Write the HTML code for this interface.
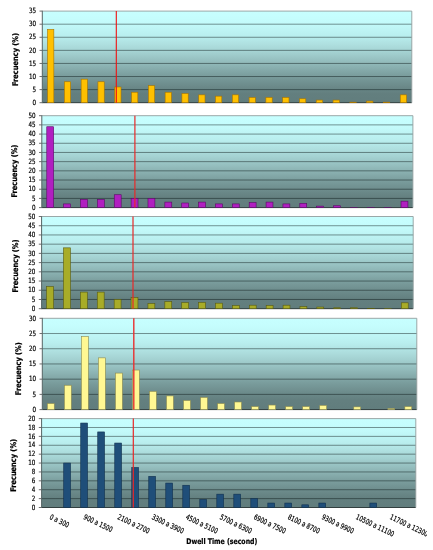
<!DOCTYPE html>
<html><head><meta charset="utf-8"><title>Dwell Time</title>
<style>html,body{margin:0;padding:0;background:#fff}svg{display:block}text{font-family:"DejaVu Sans Condensed","DejaVu Sans","Liberation Sans",sans-serif;fill:#000;stroke:#000;stroke-width:0.2px}</style></head>
<body>
<svg width="433" height="550" viewBox="0 0 433 550">
<defs><linearGradient id="g" x1="0" y1="0" x2="0" y2="1"><stop offset="0.000" stop-color="#C7FFFF"/><stop offset="0.080" stop-color="#C5FDFD"/><stop offset="0.130" stop-color="#C3FAFA"/><stop offset="0.270" stop-color="#B9EEEE"/><stop offset="0.360" stop-color="#AFE0E0"/><stop offset="0.445" stop-color="#A4D2D2"/><stop offset="0.555" stop-color="#93BCBC"/><stop offset="0.700" stop-color="#7B9E9E"/><stop offset="0.840" stop-color="#698787"/><stop offset="0.900" stop-color="#637F7F"/><stop offset="1.000" stop-color="#617D7D"/></linearGradient><clipPath id="c"><rect x="380" y="505" width="46.8" height="45"/></clipPath></defs>
<rect width="433" height="550" fill="#fff"/>
<g>
<rect x="42.3" y="11.1" width="369.5" height="91.6" fill="url(#g)"/>
<line x1="42.3" y1="102.70" x2="411.8" y2="102.70" stroke="#081414" stroke-opacity="0.75" stroke-width="1.00"/>
<line x1="39.5" y1="102.70" x2="42.3" y2="102.70" stroke="#4a4a4a" stroke-width="0.8"/>
<text transform="translate(36.1,104.90) scale(0.86,1)" font-size="7.25" text-anchor="end">0</text>
<line x1="42.3" y1="89.61" x2="411.8" y2="89.61" stroke="#081414" stroke-opacity="0.50" stroke-width="0.90"/>
<line x1="39.5" y1="89.61" x2="42.3" y2="89.61" stroke="#4a4a4a" stroke-width="0.8"/>
<text transform="translate(36.1,91.81) scale(0.86,1)" font-size="7.25" text-anchor="end">5</text>
<line x1="42.3" y1="76.53" x2="411.8" y2="76.53" stroke="#081414" stroke-opacity="0.50" stroke-width="0.90"/>
<line x1="39.5" y1="76.53" x2="42.3" y2="76.53" stroke="#4a4a4a" stroke-width="0.8"/>
<text transform="translate(36.1,78.73) scale(0.86,1)" font-size="7.25" text-anchor="end">10</text>
<line x1="42.3" y1="63.44" x2="411.8" y2="63.44" stroke="#081414" stroke-opacity="0.50" stroke-width="0.90"/>
<line x1="39.5" y1="63.44" x2="42.3" y2="63.44" stroke="#4a4a4a" stroke-width="0.8"/>
<text transform="translate(36.1,65.64) scale(0.86,1)" font-size="7.25" text-anchor="end">15</text>
<line x1="42.3" y1="50.36" x2="411.8" y2="50.36" stroke="#081414" stroke-opacity="0.50" stroke-width="0.90"/>
<line x1="39.5" y1="50.36" x2="42.3" y2="50.36" stroke="#4a4a4a" stroke-width="0.8"/>
<text transform="translate(36.1,52.56) scale(0.86,1)" font-size="7.25" text-anchor="end">20</text>
<line x1="42.3" y1="37.27" x2="411.8" y2="37.27" stroke="#081414" stroke-opacity="0.50" stroke-width="0.90"/>
<line x1="39.5" y1="37.27" x2="42.3" y2="37.27" stroke="#4a4a4a" stroke-width="0.8"/>
<text transform="translate(36.1,39.47) scale(0.86,1)" font-size="7.25" text-anchor="end">25</text>
<line x1="42.3" y1="24.19" x2="411.8" y2="24.19" stroke="#081414" stroke-opacity="0.50" stroke-width="0.90"/>
<line x1="39.5" y1="24.19" x2="42.3" y2="24.19" stroke="#4a4a4a" stroke-width="0.8"/>
<text transform="translate(36.1,26.39) scale(0.86,1)" font-size="7.25" text-anchor="end">30</text>
<line x1="39.5" y1="11.10" x2="42.3" y2="11.10" stroke="#4a4a4a" stroke-width="0.8"/>
<text transform="translate(36.1,13.30) scale(0.86,1)" font-size="7.25" text-anchor="end">35</text>
<path d="M42.3 11.1H411.8V102.7" fill="none" stroke="#929e9e" stroke-width="0.9"/>
<line x1="42.3" y1="10.7" x2="42.3" y2="103.1" stroke="#566464" stroke-width="1"/>
<rect x="47.55" y="29.42" width="6.3" height="73.28" fill="#FFC000" stroke="#A87400" stroke-width="0.6"/>
<rect x="64.34" y="81.76" width="6.3" height="20.94" fill="#FFC000" stroke="#A87400" stroke-width="0.6"/>
<rect x="81.14" y="79.15" width="6.3" height="23.55" fill="#FFC000" stroke="#A87400" stroke-width="0.6"/>
<rect x="97.93" y="81.76" width="6.3" height="20.94" fill="#FFC000" stroke="#A87400" stroke-width="0.6"/>
<rect x="114.73" y="87.00" width="6.3" height="15.70" fill="#FFC000" stroke="#A87400" stroke-width="0.6"/>
<rect x="131.53" y="92.23" width="6.3" height="10.47" fill="#FFC000" stroke="#A87400" stroke-width="0.6"/>
<rect x="148.32" y="85.69" width="6.3" height="17.01" fill="#FFC000" stroke="#A87400" stroke-width="0.6"/>
<rect x="165.12" y="92.23" width="6.3" height="10.47" fill="#FFC000" stroke="#A87400" stroke-width="0.6"/>
<rect x="181.91" y="93.54" width="6.3" height="9.16" fill="#FFC000" stroke="#A87400" stroke-width="0.6"/>
<rect x="198.71" y="94.85" width="6.3" height="7.85" fill="#FFC000" stroke="#A87400" stroke-width="0.6"/>
<rect x="215.50" y="96.16" width="6.3" height="6.54" fill="#FFC000" stroke="#A87400" stroke-width="0.6"/>
<rect x="232.30" y="94.85" width="6.3" height="7.85" fill="#FFC000" stroke="#A87400" stroke-width="0.6"/>
<rect x="249.09" y="97.47" width="6.3" height="5.23" fill="#FFC000" stroke="#A87400" stroke-width="0.6"/>
<rect x="265.89" y="97.47" width="6.3" height="5.23" fill="#FFC000" stroke="#A87400" stroke-width="0.6"/>
<rect x="282.68" y="97.47" width="6.3" height="5.23" fill="#FFC000" stroke="#A87400" stroke-width="0.6"/>
<rect x="299.48" y="98.77" width="6.3" height="3.93" fill="#FFC000" stroke="#A87400" stroke-width="0.6"/>
<rect x="316.28" y="100.08" width="6.3" height="2.62" fill="#FFC000" stroke="#A87400" stroke-width="0.6"/>
<rect x="333.07" y="100.08" width="6.3" height="2.62" fill="#FFC000" stroke="#A87400" stroke-width="0.6"/>
<rect x="349.87" y="102.18" width="6.3" height="0.52" fill="#FFC000" stroke="#A87400" stroke-width="0.6"/>
<rect x="366.66" y="101.13" width="6.3" height="1.57" fill="#FFC000" stroke="#A87400" stroke-width="0.6"/>
<rect x="383.46" y="102.18" width="6.3" height="0.52" fill="#FFC000" stroke="#A87400" stroke-width="0.6"/>
<rect x="400.25" y="94.85" width="6.3" height="7.85" fill="#FFC000" stroke="#A87400" stroke-width="0.6"/>
<line x1="116.3" y1="11.1" x2="116.3" y2="102.7" stroke="#F01010" stroke-width="1.1"/>
<text transform="translate(17.8,59.5) rotate(-90) scale(0.945,1)" font-size="7.8" font-weight="bold" text-anchor="middle">Frecuency (%)</text>
</g>
<g>
<rect x="41.8" y="115.7" width="371.1" height="91.9" fill="url(#g)"/>
<line x1="41.8" y1="207.60" x2="412.9" y2="207.60" stroke="#081414" stroke-opacity="0.75" stroke-width="1.00"/>
<line x1="39.0" y1="207.60" x2="41.8" y2="207.60" stroke="#4a4a4a" stroke-width="0.8"/>
<text transform="translate(35.6,209.80) scale(0.86,1)" font-size="7.25" text-anchor="end">0</text>
<line x1="41.8" y1="198.41" x2="412.9" y2="198.41" stroke="#081414" stroke-opacity="0.50" stroke-width="0.90"/>
<line x1="39.0" y1="198.41" x2="41.8" y2="198.41" stroke="#4a4a4a" stroke-width="0.8"/>
<text transform="translate(35.6,200.61) scale(0.86,1)" font-size="7.25" text-anchor="end">5</text>
<line x1="41.8" y1="189.22" x2="412.9" y2="189.22" stroke="#081414" stroke-opacity="0.50" stroke-width="0.90"/>
<line x1="39.0" y1="189.22" x2="41.8" y2="189.22" stroke="#4a4a4a" stroke-width="0.8"/>
<text transform="translate(35.6,191.42) scale(0.86,1)" font-size="7.25" text-anchor="end">10</text>
<line x1="41.8" y1="180.03" x2="412.9" y2="180.03" stroke="#081414" stroke-opacity="0.50" stroke-width="0.90"/>
<line x1="39.0" y1="180.03" x2="41.8" y2="180.03" stroke="#4a4a4a" stroke-width="0.8"/>
<text transform="translate(35.6,182.23) scale(0.86,1)" font-size="7.25" text-anchor="end">15</text>
<line x1="41.8" y1="170.84" x2="412.9" y2="170.84" stroke="#081414" stroke-opacity="0.50" stroke-width="0.90"/>
<line x1="39.0" y1="170.84" x2="41.8" y2="170.84" stroke="#4a4a4a" stroke-width="0.8"/>
<text transform="translate(35.6,173.04) scale(0.86,1)" font-size="7.25" text-anchor="end">20</text>
<line x1="41.8" y1="161.65" x2="412.9" y2="161.65" stroke="#081414" stroke-opacity="0.50" stroke-width="0.90"/>
<line x1="39.0" y1="161.65" x2="41.8" y2="161.65" stroke="#4a4a4a" stroke-width="0.8"/>
<text transform="translate(35.6,163.85) scale(0.86,1)" font-size="7.25" text-anchor="end">25</text>
<line x1="41.8" y1="152.46" x2="412.9" y2="152.46" stroke="#081414" stroke-opacity="0.50" stroke-width="0.90"/>
<line x1="39.0" y1="152.46" x2="41.8" y2="152.46" stroke="#4a4a4a" stroke-width="0.8"/>
<text transform="translate(35.6,154.66) scale(0.86,1)" font-size="7.25" text-anchor="end">30</text>
<line x1="41.8" y1="143.27" x2="412.9" y2="143.27" stroke="#081414" stroke-opacity="0.50" stroke-width="0.90"/>
<line x1="39.0" y1="143.27" x2="41.8" y2="143.27" stroke="#4a4a4a" stroke-width="0.8"/>
<text transform="translate(35.6,145.47) scale(0.86,1)" font-size="7.25" text-anchor="end">35</text>
<line x1="41.8" y1="134.08" x2="412.9" y2="134.08" stroke="#081414" stroke-opacity="0.50" stroke-width="0.90"/>
<line x1="39.0" y1="134.08" x2="41.8" y2="134.08" stroke="#4a4a4a" stroke-width="0.8"/>
<text transform="translate(35.6,136.28) scale(0.86,1)" font-size="7.25" text-anchor="end">40</text>
<line x1="41.8" y1="124.89" x2="412.9" y2="124.89" stroke="#081414" stroke-opacity="0.50" stroke-width="0.90"/>
<line x1="39.0" y1="124.89" x2="41.8" y2="124.89" stroke="#4a4a4a" stroke-width="0.8"/>
<text transform="translate(35.6,127.09) scale(0.86,1)" font-size="7.25" text-anchor="end">45</text>
<line x1="39.0" y1="115.70" x2="41.8" y2="115.70" stroke="#4a4a4a" stroke-width="0.8"/>
<text transform="translate(35.6,117.90) scale(0.86,1)" font-size="7.25" text-anchor="end">50</text>
<path d="M41.8 115.7H412.9V207.6" fill="none" stroke="#929e9e" stroke-width="0.9"/>
<line x1="41.8" y1="115.3" x2="41.8" y2="208.0" stroke="#566464" stroke-width="1"/>
<rect x="46.78" y="126.73" width="6.9" height="80.87" fill="#B01FC0" stroke="#5A0A66" stroke-width="0.6"/>
<rect x="63.65" y="203.92" width="6.9" height="3.68" fill="#B01FC0" stroke="#5A0A66" stroke-width="0.6"/>
<rect x="80.52" y="199.33" width="6.9" height="8.27" fill="#B01FC0" stroke="#5A0A66" stroke-width="0.6"/>
<rect x="97.39" y="199.33" width="6.9" height="8.27" fill="#B01FC0" stroke="#5A0A66" stroke-width="0.6"/>
<rect x="114.26" y="194.73" width="6.9" height="12.87" fill="#B01FC0" stroke="#5A0A66" stroke-width="0.6"/>
<rect x="131.12" y="198.41" width="6.9" height="9.19" fill="#B01FC0" stroke="#5A0A66" stroke-width="0.6"/>
<rect x="147.99" y="198.41" width="6.9" height="9.19" fill="#B01FC0" stroke="#5A0A66" stroke-width="0.6"/>
<rect x="164.86" y="202.09" width="6.9" height="5.51" fill="#B01FC0" stroke="#5A0A66" stroke-width="0.6"/>
<rect x="181.73" y="203.00" width="6.9" height="4.59" fill="#B01FC0" stroke="#5A0A66" stroke-width="0.6"/>
<rect x="198.60" y="202.09" width="6.9" height="5.51" fill="#B01FC0" stroke="#5A0A66" stroke-width="0.6"/>
<rect x="215.47" y="203.92" width="6.9" height="3.68" fill="#B01FC0" stroke="#5A0A66" stroke-width="0.6"/>
<rect x="232.33" y="203.92" width="6.9" height="3.68" fill="#B01FC0" stroke="#5A0A66" stroke-width="0.6"/>
<rect x="249.20" y="202.64" width="6.9" height="4.96" fill="#B01FC0" stroke="#5A0A66" stroke-width="0.6"/>
<rect x="266.07" y="202.09" width="6.9" height="5.51" fill="#B01FC0" stroke="#5A0A66" stroke-width="0.6"/>
<rect x="282.94" y="203.92" width="6.9" height="3.68" fill="#B01FC0" stroke="#5A0A66" stroke-width="0.6"/>
<rect x="299.81" y="203.37" width="6.9" height="4.23" fill="#B01FC0" stroke="#5A0A66" stroke-width="0.6"/>
<rect x="316.68" y="206.13" width="6.9" height="1.47" fill="#B01FC0" stroke="#5A0A66" stroke-width="0.6"/>
<rect x="333.54" y="205.76" width="6.9" height="1.84" fill="#B01FC0" stroke="#5A0A66" stroke-width="0.6"/>
<rect x="350.41" y="207.38" width="6.9" height="0.22" fill="#B01FC0" stroke="#5A0A66" stroke-width="0.6"/>
<rect x="367.28" y="207.38" width="6.9" height="0.22" fill="#B01FC0" stroke="#5A0A66" stroke-width="0.6"/>
<rect x="384.15" y="207.38" width="6.9" height="0.22" fill="#B01FC0" stroke="#5A0A66" stroke-width="0.6"/>
<rect x="401.02" y="201.17" width="6.9" height="6.43" fill="#B01FC0" stroke="#5A0A66" stroke-width="0.6"/>
<line x1="134.9" y1="115.7" x2="134.9" y2="207.6" stroke="#E82828" stroke-width="1.2"/>
<text transform="translate(17.1,171.1) rotate(-90) scale(0.945,1)" font-size="7.8" font-weight="bold" text-anchor="middle">Frecuency (%)</text>
</g>
<g>
<rect x="41.6" y="216.5" width="371.6" height="92.2" fill="url(#g)"/>
<line x1="41.6" y1="308.70" x2="413.2" y2="308.70" stroke="#081414" stroke-opacity="0.75" stroke-width="1.00"/>
<line x1="38.8" y1="308.70" x2="41.6" y2="308.70" stroke="#4a4a4a" stroke-width="0.8"/>
<text transform="translate(35.4,310.90) scale(0.86,1)" font-size="7.25" text-anchor="end">0</text>
<line x1="41.6" y1="299.48" x2="413.2" y2="299.48" stroke="#081414" stroke-opacity="0.50" stroke-width="0.90"/>
<line x1="38.8" y1="299.48" x2="41.6" y2="299.48" stroke="#4a4a4a" stroke-width="0.8"/>
<text transform="translate(35.4,301.68) scale(0.86,1)" font-size="7.25" text-anchor="end">5</text>
<line x1="41.6" y1="290.26" x2="413.2" y2="290.26" stroke="#081414" stroke-opacity="0.50" stroke-width="0.90"/>
<line x1="38.8" y1="290.26" x2="41.6" y2="290.26" stroke="#4a4a4a" stroke-width="0.8"/>
<text transform="translate(35.4,292.46) scale(0.86,1)" font-size="7.25" text-anchor="end">10</text>
<line x1="41.6" y1="281.04" x2="413.2" y2="281.04" stroke="#081414" stroke-opacity="0.50" stroke-width="0.90"/>
<line x1="38.8" y1="281.04" x2="41.6" y2="281.04" stroke="#4a4a4a" stroke-width="0.8"/>
<text transform="translate(35.4,283.24) scale(0.86,1)" font-size="7.25" text-anchor="end">15</text>
<line x1="41.6" y1="271.82" x2="413.2" y2="271.82" stroke="#081414" stroke-opacity="0.50" stroke-width="0.90"/>
<line x1="38.8" y1="271.82" x2="41.6" y2="271.82" stroke="#4a4a4a" stroke-width="0.8"/>
<text transform="translate(35.4,274.02) scale(0.86,1)" font-size="7.25" text-anchor="end">20</text>
<line x1="41.6" y1="262.60" x2="413.2" y2="262.60" stroke="#081414" stroke-opacity="0.50" stroke-width="0.90"/>
<line x1="38.8" y1="262.60" x2="41.6" y2="262.60" stroke="#4a4a4a" stroke-width="0.8"/>
<text transform="translate(35.4,264.80) scale(0.86,1)" font-size="7.25" text-anchor="end">25</text>
<line x1="41.6" y1="253.38" x2="413.2" y2="253.38" stroke="#081414" stroke-opacity="0.50" stroke-width="0.90"/>
<line x1="38.8" y1="253.38" x2="41.6" y2="253.38" stroke="#4a4a4a" stroke-width="0.8"/>
<text transform="translate(35.4,255.58) scale(0.86,1)" font-size="7.25" text-anchor="end">30</text>
<line x1="41.6" y1="244.16" x2="413.2" y2="244.16" stroke="#081414" stroke-opacity="0.50" stroke-width="0.90"/>
<line x1="38.8" y1="244.16" x2="41.6" y2="244.16" stroke="#4a4a4a" stroke-width="0.8"/>
<text transform="translate(35.4,246.36) scale(0.86,1)" font-size="7.25" text-anchor="end">35</text>
<line x1="41.6" y1="234.94" x2="413.2" y2="234.94" stroke="#081414" stroke-opacity="0.50" stroke-width="0.90"/>
<line x1="38.8" y1="234.94" x2="41.6" y2="234.94" stroke="#4a4a4a" stroke-width="0.8"/>
<text transform="translate(35.4,237.14) scale(0.86,1)" font-size="7.25" text-anchor="end">40</text>
<line x1="41.6" y1="225.72" x2="413.2" y2="225.72" stroke="#081414" stroke-opacity="0.50" stroke-width="0.90"/>
<line x1="38.8" y1="225.72" x2="41.6" y2="225.72" stroke="#4a4a4a" stroke-width="0.8"/>
<text transform="translate(35.4,227.92) scale(0.86,1)" font-size="7.25" text-anchor="end">45</text>
<line x1="38.8" y1="216.50" x2="41.6" y2="216.50" stroke="#4a4a4a" stroke-width="0.8"/>
<text transform="translate(35.4,218.70) scale(0.86,1)" font-size="7.25" text-anchor="end">50</text>
<path d="M41.6 216.5H413.2V308.7" fill="none" stroke="#929e9e" stroke-width="0.9"/>
<line x1="41.6" y1="216.1" x2="41.6" y2="309.1" stroke="#566464" stroke-width="1"/>
<rect x="46.60" y="286.57" width="6.9" height="22.13" fill="#A8AC28" stroke="#5A5C10" stroke-width="0.6"/>
<rect x="63.49" y="247.85" width="6.9" height="60.85" fill="#A8AC28" stroke="#5A5C10" stroke-width="0.6"/>
<rect x="80.38" y="292.10" width="6.9" height="16.60" fill="#A8AC28" stroke="#5A5C10" stroke-width="0.6"/>
<rect x="97.27" y="292.10" width="6.9" height="16.60" fill="#A8AC28" stroke="#5A5C10" stroke-width="0.6"/>
<rect x="114.16" y="299.48" width="6.9" height="9.22" fill="#A8AC28" stroke="#5A5C10" stroke-width="0.6"/>
<rect x="131.05" y="297.64" width="6.9" height="11.06" fill="#A8AC28" stroke="#5A5C10" stroke-width="0.6"/>
<rect x="147.94" y="303.54" width="6.9" height="5.16" fill="#A8AC28" stroke="#5A5C10" stroke-width="0.6"/>
<rect x="164.83" y="301.69" width="6.9" height="7.01" fill="#A8AC28" stroke="#5A5C10" stroke-width="0.6"/>
<rect x="181.72" y="302.61" width="6.9" height="6.09" fill="#A8AC28" stroke="#5A5C10" stroke-width="0.6"/>
<rect x="198.61" y="302.43" width="6.9" height="6.27" fill="#A8AC28" stroke="#5A5C10" stroke-width="0.6"/>
<rect x="215.50" y="303.17" width="6.9" height="5.53" fill="#A8AC28" stroke="#5A5C10" stroke-width="0.6"/>
<rect x="232.40" y="305.57" width="6.9" height="3.13" fill="#A8AC28" stroke="#5A5C10" stroke-width="0.6"/>
<rect x="249.29" y="305.20" width="6.9" height="3.50" fill="#A8AC28" stroke="#5A5C10" stroke-width="0.6"/>
<rect x="266.18" y="305.57" width="6.9" height="3.13" fill="#A8AC28" stroke="#5A5C10" stroke-width="0.6"/>
<rect x="283.07" y="305.20" width="6.9" height="3.50" fill="#A8AC28" stroke="#5A5C10" stroke-width="0.6"/>
<rect x="299.96" y="306.67" width="6.9" height="2.03" fill="#A8AC28" stroke="#5A5C10" stroke-width="0.6"/>
<rect x="316.85" y="307.04" width="6.9" height="1.66" fill="#A8AC28" stroke="#5A5C10" stroke-width="0.6"/>
<rect x="333.74" y="307.78" width="6.9" height="0.92" fill="#A8AC28" stroke="#5A5C10" stroke-width="0.6"/>
<rect x="350.63" y="307.78" width="6.9" height="0.92" fill="#A8AC28" stroke="#5A5C10" stroke-width="0.6"/>
<rect x="367.52" y="308.42" width="6.9" height="0.28" fill="#A8AC28" stroke="#5A5C10" stroke-width="0.6"/>
<rect x="384.41" y="308.33" width="6.9" height="0.37" fill="#A8AC28" stroke="#5A5C10" stroke-width="0.6"/>
<rect x="401.30" y="302.80" width="6.9" height="5.90" fill="#A8AC28" stroke="#5A5C10" stroke-width="0.6"/>
<line x1="133.0" y1="216.5" x2="133.0" y2="308.7" stroke="#E82828" stroke-width="1.2"/>
<text transform="translate(17.9,266.0) rotate(-90) scale(0.945,1)" font-size="7.8" font-weight="bold" text-anchor="middle">Frecuency (%)</text>
</g>
<g>
<rect x="42.3" y="318.3" width="374.5" height="91.3" fill="url(#g)"/>
<line x1="42.3" y1="409.60" x2="416.8" y2="409.60" stroke="#081414" stroke-opacity="0.75" stroke-width="1.00"/>
<line x1="39.5" y1="409.60" x2="42.3" y2="409.60" stroke="#4a4a4a" stroke-width="0.8"/>
<text transform="translate(36.1,411.80) scale(0.86,1)" font-size="7.25" text-anchor="end">0</text>
<line x1="42.3" y1="394.38" x2="416.8" y2="394.38" stroke="#081414" stroke-opacity="0.50" stroke-width="0.90"/>
<line x1="39.5" y1="394.38" x2="42.3" y2="394.38" stroke="#4a4a4a" stroke-width="0.8"/>
<text transform="translate(36.1,396.58) scale(0.86,1)" font-size="7.25" text-anchor="end">5</text>
<line x1="42.3" y1="379.17" x2="416.8" y2="379.17" stroke="#081414" stroke-opacity="0.50" stroke-width="0.90"/>
<line x1="39.5" y1="379.17" x2="42.3" y2="379.17" stroke="#4a4a4a" stroke-width="0.8"/>
<text transform="translate(36.1,381.37) scale(0.86,1)" font-size="7.25" text-anchor="end">10</text>
<line x1="42.3" y1="363.95" x2="416.8" y2="363.95" stroke="#081414" stroke-opacity="0.50" stroke-width="0.90"/>
<line x1="39.5" y1="363.95" x2="42.3" y2="363.95" stroke="#4a4a4a" stroke-width="0.8"/>
<text transform="translate(36.1,366.15) scale(0.86,1)" font-size="7.25" text-anchor="end">15</text>
<line x1="42.3" y1="348.73" x2="416.8" y2="348.73" stroke="#081414" stroke-opacity="0.50" stroke-width="0.90"/>
<line x1="39.5" y1="348.73" x2="42.3" y2="348.73" stroke="#4a4a4a" stroke-width="0.8"/>
<text transform="translate(36.1,350.93) scale(0.86,1)" font-size="7.25" text-anchor="end">20</text>
<line x1="42.3" y1="333.52" x2="416.8" y2="333.52" stroke="#081414" stroke-opacity="0.50" stroke-width="0.90"/>
<line x1="39.5" y1="333.52" x2="42.3" y2="333.52" stroke="#4a4a4a" stroke-width="0.8"/>
<text transform="translate(36.1,335.72) scale(0.86,1)" font-size="7.25" text-anchor="end">25</text>
<line x1="39.5" y1="318.30" x2="42.3" y2="318.30" stroke="#4a4a4a" stroke-width="0.8"/>
<text transform="translate(36.1,320.50) scale(0.86,1)" font-size="7.25" text-anchor="end">30</text>
<path d="M42.3 318.3H416.8V409.6" fill="none" stroke="#929e9e" stroke-width="0.9"/>
<line x1="42.3" y1="317.9" x2="42.3" y2="410.0" stroke="#566464" stroke-width="1"/>
<rect x="47.36" y="403.51" width="6.9" height="6.09" fill="#FFF893" stroke="#8A8A50" stroke-width="0.6"/>
<rect x="64.38" y="385.25" width="6.9" height="24.35" fill="#FFF893" stroke="#8A8A50" stroke-width="0.6"/>
<rect x="81.41" y="336.56" width="6.9" height="73.04" fill="#FFF893" stroke="#8A8A50" stroke-width="0.6"/>
<rect x="98.43" y="357.86" width="6.9" height="51.74" fill="#FFF893" stroke="#8A8A50" stroke-width="0.6"/>
<rect x="115.45" y="373.08" width="6.9" height="36.52" fill="#FFF893" stroke="#8A8A50" stroke-width="0.6"/>
<rect x="132.48" y="370.04" width="6.9" height="39.56" fill="#FFF893" stroke="#8A8A50" stroke-width="0.6"/>
<rect x="149.50" y="391.34" width="6.9" height="18.26" fill="#FFF893" stroke="#8A8A50" stroke-width="0.6"/>
<rect x="166.52" y="395.91" width="6.9" height="13.70" fill="#FFF893" stroke="#8A8A50" stroke-width="0.6"/>
<rect x="183.54" y="400.47" width="6.9" height="9.13" fill="#FFF893" stroke="#8A8A50" stroke-width="0.6"/>
<rect x="200.57" y="397.43" width="6.9" height="12.17" fill="#FFF893" stroke="#8A8A50" stroke-width="0.6"/>
<rect x="217.59" y="403.51" width="6.9" height="6.09" fill="#FFF893" stroke="#8A8A50" stroke-width="0.6"/>
<rect x="234.61" y="401.99" width="6.9" height="7.61" fill="#FFF893" stroke="#8A8A50" stroke-width="0.6"/>
<rect x="251.63" y="406.56" width="6.9" height="3.04" fill="#FFF893" stroke="#8A8A50" stroke-width="0.6"/>
<rect x="268.66" y="405.04" width="6.9" height="4.57" fill="#FFF893" stroke="#8A8A50" stroke-width="0.6"/>
<rect x="285.68" y="406.56" width="6.9" height="3.04" fill="#FFF893" stroke="#8A8A50" stroke-width="0.6"/>
<rect x="302.70" y="406.56" width="6.9" height="3.04" fill="#FFF893" stroke="#8A8A50" stroke-width="0.6"/>
<rect x="319.73" y="405.34" width="6.9" height="4.26" fill="#FFF893" stroke="#8A8A50" stroke-width="0.6"/>
<rect x="353.77" y="406.86" width="6.9" height="2.74" fill="#FFF893" stroke="#8A8A50" stroke-width="0.6"/>
<rect x="387.82" y="408.38" width="6.9" height="1.22" fill="#FFF893" stroke="#8A8A50" stroke-width="0.6"/>
<rect x="404.84" y="406.56" width="6.9" height="3.04" fill="#FFF893" stroke="#8A8A50" stroke-width="0.6"/>
<line x1="133.8" y1="318.3" x2="133.8" y2="409.6" stroke="#E83030" stroke-width="1.4"/>
<text transform="translate(21.3,368.7) rotate(-90) scale(0.945,1)" font-size="7.8" font-weight="bold" text-anchor="middle">Frecuency (%)</text>
</g>
<g>
<rect x="41.6" y="418.6" width="374.2" height="88.9" fill="url(#g)"/>
<line x1="41.6" y1="507.50" x2="415.8" y2="507.50" stroke="#081414" stroke-opacity="0.75" stroke-width="1.00"/>
<line x1="38.8" y1="507.50" x2="41.6" y2="507.50" stroke="#4a4a4a" stroke-width="0.8"/>
<text transform="translate(35.4,509.70) scale(0.86,1)" font-size="7.25" text-anchor="end">0</text>
<line x1="41.6" y1="498.61" x2="415.8" y2="498.61" stroke="#081414" stroke-opacity="0.50" stroke-width="0.90"/>
<line x1="38.8" y1="498.61" x2="41.6" y2="498.61" stroke="#4a4a4a" stroke-width="0.8"/>
<text transform="translate(35.4,500.81) scale(0.86,1)" font-size="7.25" text-anchor="end">2</text>
<line x1="41.6" y1="489.72" x2="415.8" y2="489.72" stroke="#081414" stroke-opacity="0.50" stroke-width="0.90"/>
<line x1="38.8" y1="489.72" x2="41.6" y2="489.72" stroke="#4a4a4a" stroke-width="0.8"/>
<text transform="translate(35.4,491.92) scale(0.86,1)" font-size="7.25" text-anchor="end">4</text>
<line x1="41.6" y1="480.83" x2="415.8" y2="480.83" stroke="#081414" stroke-opacity="0.50" stroke-width="0.90"/>
<line x1="38.8" y1="480.83" x2="41.6" y2="480.83" stroke="#4a4a4a" stroke-width="0.8"/>
<text transform="translate(35.4,483.03) scale(0.86,1)" font-size="7.25" text-anchor="end">6</text>
<line x1="41.6" y1="471.94" x2="415.8" y2="471.94" stroke="#081414" stroke-opacity="0.50" stroke-width="0.90"/>
<line x1="38.8" y1="471.94" x2="41.6" y2="471.94" stroke="#4a4a4a" stroke-width="0.8"/>
<text transform="translate(35.4,474.14) scale(0.86,1)" font-size="7.25" text-anchor="end">8</text>
<line x1="41.6" y1="463.05" x2="415.8" y2="463.05" stroke="#081414" stroke-opacity="0.50" stroke-width="0.90"/>
<line x1="38.8" y1="463.05" x2="41.6" y2="463.05" stroke="#4a4a4a" stroke-width="0.8"/>
<text transform="translate(35.4,465.25) scale(0.86,1)" font-size="7.25" text-anchor="end">10</text>
<line x1="41.6" y1="454.16" x2="415.8" y2="454.16" stroke="#081414" stroke-opacity="0.50" stroke-width="0.90"/>
<line x1="38.8" y1="454.16" x2="41.6" y2="454.16" stroke="#4a4a4a" stroke-width="0.8"/>
<text transform="translate(35.4,456.36) scale(0.86,1)" font-size="7.25" text-anchor="end">12</text>
<line x1="41.6" y1="445.27" x2="415.8" y2="445.27" stroke="#081414" stroke-opacity="0.50" stroke-width="0.90"/>
<line x1="38.8" y1="445.27" x2="41.6" y2="445.27" stroke="#4a4a4a" stroke-width="0.8"/>
<text transform="translate(35.4,447.47) scale(0.86,1)" font-size="7.25" text-anchor="end">14</text>
<line x1="41.6" y1="436.38" x2="415.8" y2="436.38" stroke="#081414" stroke-opacity="0.50" stroke-width="0.90"/>
<line x1="38.8" y1="436.38" x2="41.6" y2="436.38" stroke="#4a4a4a" stroke-width="0.8"/>
<text transform="translate(35.4,438.58) scale(0.86,1)" font-size="7.25" text-anchor="end">16</text>
<line x1="41.6" y1="427.49" x2="415.8" y2="427.49" stroke="#081414" stroke-opacity="0.50" stroke-width="0.90"/>
<line x1="38.8" y1="427.49" x2="41.6" y2="427.49" stroke="#4a4a4a" stroke-width="0.8"/>
<text transform="translate(35.4,429.69) scale(0.86,1)" font-size="7.25" text-anchor="end">18</text>
<line x1="38.8" y1="418.60" x2="41.6" y2="418.60" stroke="#4a4a4a" stroke-width="0.8"/>
<text transform="translate(35.4,420.80) scale(0.86,1)" font-size="7.25" text-anchor="end">20</text>
<path d="M41.6 418.6H415.8V507.5" fill="none" stroke="#929e9e" stroke-width="0.9"/>
<line x1="41.6" y1="418.2" x2="41.6" y2="507.9" stroke="#566464" stroke-width="1"/>
<rect x="63.71" y="463.05" width="6.8" height="44.45" fill="#1F4E79" stroke="#10304F" stroke-width="0.6"/>
<rect x="80.72" y="423.05" width="6.8" height="84.45" fill="#1F4E79" stroke="#10304F" stroke-width="0.6"/>
<rect x="97.73" y="431.94" width="6.8" height="75.56" fill="#1F4E79" stroke="#10304F" stroke-width="0.6"/>
<rect x="114.74" y="443.05" width="6.8" height="64.45" fill="#1F4E79" stroke="#10304F" stroke-width="0.6"/>
<rect x="131.75" y="467.50" width="6.8" height="40.00" fill="#1F4E79" stroke="#10304F" stroke-width="0.6"/>
<rect x="148.76" y="476.38" width="6.8" height="31.11" fill="#1F4E79" stroke="#10304F" stroke-width="0.6"/>
<rect x="165.77" y="483.05" width="6.8" height="24.45" fill="#1F4E79" stroke="#10304F" stroke-width="0.6"/>
<rect x="182.78" y="485.27" width="6.8" height="22.22" fill="#1F4E79" stroke="#10304F" stroke-width="0.6"/>
<rect x="199.79" y="499.50" width="6.8" height="8.00" fill="#1F4E79" stroke="#10304F" stroke-width="0.6"/>
<rect x="216.80" y="494.17" width="6.8" height="13.33" fill="#1F4E79" stroke="#10304F" stroke-width="0.6"/>
<rect x="233.80" y="494.17" width="6.8" height="13.33" fill="#1F4E79" stroke="#10304F" stroke-width="0.6"/>
<rect x="250.81" y="498.61" width="6.8" height="8.89" fill="#1F4E79" stroke="#10304F" stroke-width="0.6"/>
<rect x="267.82" y="503.06" width="6.8" height="4.44" fill="#1F4E79" stroke="#10304F" stroke-width="0.6"/>
<rect x="284.83" y="503.06" width="6.8" height="4.44" fill="#1F4E79" stroke="#10304F" stroke-width="0.6"/>
<rect x="301.84" y="504.83" width="6.8" height="2.67" fill="#1F4E79" stroke="#10304F" stroke-width="0.6"/>
<rect x="318.85" y="503.06" width="6.8" height="4.44" fill="#1F4E79" stroke="#10304F" stroke-width="0.6"/>
<rect x="369.88" y="503.06" width="6.8" height="4.44" fill="#1F4E79" stroke="#10304F" stroke-width="0.6"/>
<line x1="133.3" y1="418.6" x2="133.3" y2="507.5" stroke="#E82828" stroke-width="1.2"/>
<text transform="translate(16.3,465.4) rotate(-90) scale(0.945,1)" font-size="7.8" font-weight="bold" text-anchor="middle">Frecuency (%)</text>
</g>
<g><text transform="translate(49.1,518.8) rotate(25.5) scale(0.82,1)" font-size="7.4" fill="#000" stroke-width="0.15">0 a 300</text></g>
<g><text transform="translate(83.1,518.8) rotate(25.5) scale(0.82,1)" font-size="7.4" fill="#000" stroke-width="0.15">900 a 1500</text></g>
<g><text transform="translate(117.1,518.8) rotate(25.5) scale(0.82,1)" font-size="7.4" fill="#000" stroke-width="0.15">2100 a 2700</text></g>
<g><text transform="translate(151.2,518.8) rotate(25.5) scale(0.82,1)" font-size="7.4" fill="#000" stroke-width="0.15">3300 a 3900</text></g>
<g><text transform="translate(185.2,518.8) rotate(25.5) scale(0.82,1)" font-size="7.4" fill="#000" stroke-width="0.15">4500 a 5100</text></g>
<g><text transform="translate(219.2,518.8) rotate(25.5) scale(0.82,1)" font-size="7.4" fill="#000" stroke-width="0.15">5700 a 6300</text></g>
<g><text transform="translate(253.2,518.8) rotate(25.5) scale(0.82,1)" font-size="7.4" fill="#000" stroke-width="0.15">6900 a 7500</text></g>
<g><text transform="translate(287.2,518.8) rotate(25.5) scale(0.82,1)" font-size="7.4" fill="#000" stroke-width="0.15">8100 a 8700</text></g>
<g><text transform="translate(321.2,518.8) rotate(25.5) scale(0.82,1)" font-size="7.4" fill="#000" stroke-width="0.15">9300 a 9900</text></g>
<g><text transform="translate(355.3,518.8) rotate(25.5) scale(0.82,1)" font-size="7.4" fill="#000" stroke-width="0.15">10500 a 11100</text></g>
<g clip-path="url(#c)"><text transform="translate(389.3,518.8) rotate(25.5) scale(0.82,1)" font-size="7.4" fill="#000" stroke-width="0.15">11700 a 12300</text></g>
<text transform="translate(221.8,544.0) scale(0.885,1)" font-size="7.8" font-weight="bold" text-anchor="middle">Dwell Time (second)</text>
</svg>
</body></html>
